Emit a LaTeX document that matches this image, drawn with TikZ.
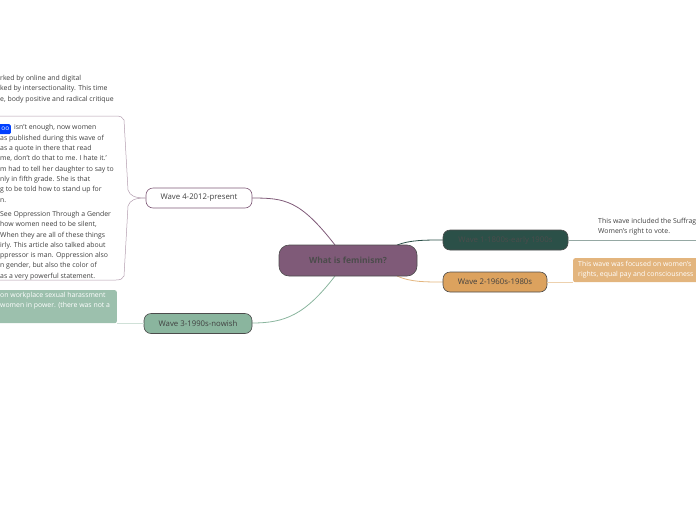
\documentclass[tikz,border=0pt]{standalone}
\usepackage{fontspec}
\setmainfont{Open Sans}
\begin{document}
\begin{tikzpicture}[x=1pt,y=-1pt,
  wave/.style={rounded corners=7pt,draw=black!70,line width=0.6pt,minimum height=20pt,inner sep=0pt,font=\fontsize{7.8}{9}\selectfont,text=black!75},
  note/.style={anchor=north west,inner sep=0pt,font=\fontsize{6.9}{10.3}\selectfont,text=black!75,align=left}]
\useasboundingbox (0,0) rectangle (696,520);
\begin{scope}
\clip (0,0) rectangle (696,520);
\definecolor{cpurple}{HTML}{7F5A78}
\definecolor{cdark}{HTML}{2B5048}
\definecolor{corange}{HTML}{DCA25E}
\definecolor{cgreen}{HTML}{8AB59E}
% connectors
\draw[cpurple,line width=0.8pt] (335,245) .. controls (300,200) and (285,198) .. (252,198);
\draw[cgreen,line width=0.8pt] (335,276) .. controls (305,315) and (285,323) .. (252,323);
\draw[cdark,line width=0.8pt] (397,245) .. controls (410,240) and (425,240) .. (443,240);
\draw[corange!80,line width=0.8pt] (397,276) .. controls (410,282) and (425,282) .. (443,282);
% nodes
\node[wave,fill=cpurple,minimum width=138pt,minimum height=31pt,rounded corners=10pt,font=\fontsize{8.5}{10}\selectfont\bfseries,text=black!70] (c) at (348,260.5) {What is feminism?};
\node[wave,fill=cdark,minimum width=125pt,text=black!70] (w1) at (505.5,240) {Wave 1-1800s-early 1900s};
\node[wave,fill=corange,minimum width=104pt] (w2) at (495,282) {Wave 2-1960s-1980s};
\node[wave,fill=white,draw=cpurple,minimum width=106pt] (w4) at (199,198) {Wave 4-2012-present};
\node[wave,fill=cgreen,minimum width=108pt] (w3) at (198,323.5) {Wave 3-1990s-nowish};
% wave1 note
\coordinate (n1e) at (696,240);
\draw[cdark!50,line width=0.6pt] (w1.east) -- (n1e);
\node[note] (n1) at (598,218) {This wave included the Suffrage\\Women's right to vote.};
% wave2 note
\draw[corange!50,line width=0.6pt] (w2.east) -- (573,282);
\node[anchor=north west,fill=corange!80,rounded corners=2pt,minimum width=130pt,minimum height=24pt,inner sep=0pt] (n2) at (573,258) {};
\node[note,text=white] (n2t) at (578,261) {This wave was focused on women's\\rights, equal pay and consciousness};
% wave3 note
\node[anchor=north east,fill=cgreen!85,rounded corners=2pt,minimum width=127pt,minimum height=33pt,inner sep=0pt] (n3) at (117,290) {};
\draw[cgreen!40,line width=0.8pt] (n3.east |- w3) -- (w3.west);
\node[note,text=white] (n3t) at (0,292) {on workplace sexual harassment\\women in power. (there was not a};
% wave4 notes
\node[note] (n4a) at (0,75) {rked by online and digital\\ked by intersectionality. This time\\e, body positive and radical critique};
\draw[cpurple!60,line width=0.5pt] (w4.west) .. controls (135,198) and (130,196) .. (128,190) -- (124,120) .. controls (123,117) and (120,116) .. (116,116) -- (0,116);
\draw[cpurple!60,line width=0.5pt] (w4.west) .. controls (135,198) and (130,200) .. (128,206) -- (124,276) .. controls (123,279) and (120,280) .. (116,280) -- (0,280);
\node[anchor=north east,fill=blue!75!cyan,text=white,rounded corners=1.5pt,inner sep=0pt,minimum width=20pt,minimum height=10pt,font=\fontsize{6.5}{7}\selectfont] (tag) at (11,124) {\hspace{9pt}oo};
\node[note] (n4b) at (0,124.5) {\hspace{14pt}isn't enough, now women\\as published during this wave of\\as a quote in there that read\\me, don't do that to me. I hate it.'\\m had to tell her daughter to say to\\nly in fifth grade. She is that\\g to be told how to stand up for\\n.};
\node[note] (n4c) at (0,211) {See Oppression Through a Gender\\how women need to be silent,\\When they are all of these things\\irly. This article also talked about\\ppressor is man. Oppression also\\n gender, but also the color of\\as a very powerful statement.};
\end{scope}
\end{tikzpicture}
\end{document}
